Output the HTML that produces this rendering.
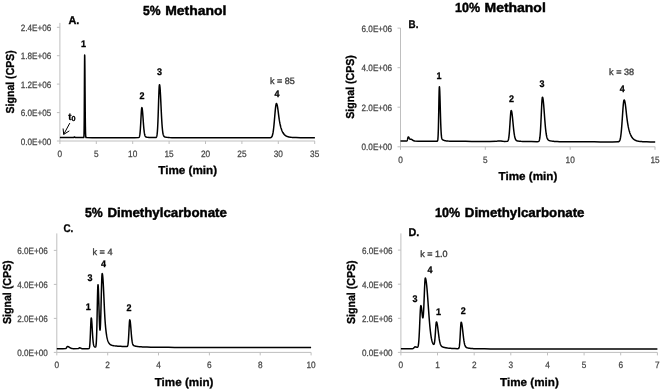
<!DOCTYPE html>
<html lang="en"><head><meta charset="utf-8"><title>Chromatograms</title>
<style>
html,body{margin:0;padding:0;background:#fff;}
body{width:661px;height:390px;overflow:hidden;}
svg{display:block;text-rendering:geometricPrecision;font-family:'Liberation Sans', Arial, sans-serif;}
</style></head><body>
<svg width="661" height="390" viewBox="0 0 661 390">
<rect width="661" height="390" fill="#fff"/>
<g stroke="#bfbfbf" stroke-width="1" fill="none">
<path d="M59.9 22.9V141.0H314.9"/>
<path d="M56.9 141.0H59.9M56.9 112.6H59.9M56.9 84.1H59.9M56.9 55.7H59.9M56.9 27.3H59.9M59.9 141.0V144.0M96.3 141.0V144.0M132.7 141.0V144.0M169.1 141.0V144.0M205.5 141.0V144.0M241.9 141.0V144.0M278.3 141.0V144.0M314.7 141.0V144.0"/>
</g>
<text x="20.70" y="144.50" font-size="9.2" fill="#454545" textLength="30.50" lengthAdjust="spacingAndGlyphs" stroke="#454545" stroke-width="0.25">0.0E+00</text>
<text x="20.70" y="116.07" font-size="9.2" fill="#454545" textLength="30.50" lengthAdjust="spacingAndGlyphs" stroke="#454545" stroke-width="0.25">6.0E+05</text>
<text x="20.70" y="87.64" font-size="9.2" fill="#454545" textLength="30.50" lengthAdjust="spacingAndGlyphs" stroke="#454545" stroke-width="0.25">1.2E+06</text>
<text x="20.70" y="59.21" font-size="9.2" fill="#454545" textLength="30.50" lengthAdjust="spacingAndGlyphs" stroke="#454545" stroke-width="0.25">1.8E+06</text>
<text x="20.70" y="30.78" font-size="9.2" fill="#454545" textLength="30.50" lengthAdjust="spacingAndGlyphs" stroke="#454545" stroke-width="0.25">2.4E+06</text>
<text x="57.60" y="156.80" font-size="9.2" fill="#454545" textLength="4.60" lengthAdjust="spacingAndGlyphs" stroke="#454545" stroke-width="0.25">0</text>
<text x="94.00" y="156.80" font-size="9.2" fill="#454545" textLength="4.60" lengthAdjust="spacingAndGlyphs" stroke="#454545" stroke-width="0.25">5</text>
<text x="128.10" y="156.80" font-size="9.2" fill="#454545" textLength="9.20" lengthAdjust="spacingAndGlyphs" stroke="#454545" stroke-width="0.25">10</text>
<text x="164.50" y="156.80" font-size="9.2" fill="#454545" textLength="9.20" lengthAdjust="spacingAndGlyphs" stroke="#454545" stroke-width="0.25">15</text>
<text x="200.90" y="156.80" font-size="9.2" fill="#454545" textLength="9.20" lengthAdjust="spacingAndGlyphs" stroke="#454545" stroke-width="0.25">20</text>
<text x="237.30" y="156.80" font-size="9.2" fill="#454545" textLength="9.20" lengthAdjust="spacingAndGlyphs" stroke="#454545" stroke-width="0.25">25</text>
<text x="273.70" y="156.80" font-size="9.2" fill="#454545" textLength="9.20" lengthAdjust="spacingAndGlyphs" stroke="#454545" stroke-width="0.25">30</text>
<text x="310.10" y="156.80" font-size="9.2" fill="#454545" textLength="9.20" lengthAdjust="spacingAndGlyphs" stroke="#454545" stroke-width="0.25">35</text>
<polyline points="59.90,137.60 65.94,137.60 71.97,137.61 73.76,137.51 73.93,137.38 74.01,137.29 74.10,137.20 74.18,137.10 74.27,137.01 74.44,136.91 74.69,137.03 74.78,137.12 74.86,137.22 74.95,137.32 75.04,137.40 75.21,137.52 75.55,137.60 81.58,137.62 83.71,137.55 83.79,137.40 83.88,136.96 83.96,135.87 84.05,133.44 84.13,128.68 84.22,120.53 84.30,108.37 84.39,92.84 84.47,76.27 84.56,62.41 84.64,55.12 84.73,55.62 84.81,60.68 84.90,69.26 84.98,80.09 85.07,91.78 85.15,103.03 85.24,112.90 85.32,120.89 85.41,126.90 85.49,131.12 85.58,133.88 85.66,135.59 85.75,136.57 85.83,137.11 85.92,137.38 86.00,137.52 86.17,137.60 92.21,137.63 98.25,137.63 104.28,137.63 110.32,137.64 116.36,137.64 122.40,137.65 128.43,137.65 134.47,137.66 138.64,137.57 138.89,137.44 138.98,137.37 139.06,137.29 139.15,137.17 139.23,137.03 139.32,136.86 139.40,136.64 139.49,136.38 139.57,136.06 139.66,135.68 139.74,135.23 139.83,134.70 139.91,134.08 140.00,133.37 140.08,132.56 140.17,131.64 140.25,130.62 140.34,129.49 140.42,128.26 140.51,126.92 140.59,125.49 140.68,123.99 140.76,122.42 140.85,120.81 140.93,119.18 141.02,117.56 141.10,115.96 141.19,114.43 141.27,112.99 141.36,111.67 141.44,110.50 141.53,109.50 141.61,108.71 141.70,108.13 141.78,107.78 141.87,107.66 141.95,107.73 142.04,107.93 142.12,108.26 142.21,108.71 142.29,109.28 142.38,109.97 142.46,110.75 142.55,111.63 142.63,112.59 142.72,113.62 142.80,114.72 142.89,115.85 142.97,117.02 143.06,118.21 143.14,119.42 143.23,120.62 143.31,121.80 143.40,122.97 143.48,124.10 143.57,125.20 143.65,126.25 143.74,127.25 143.82,128.20 143.91,129.09 143.99,129.92 144.08,130.70 144.16,131.41 144.25,132.07 144.33,132.66 144.42,133.21 144.50,133.70 144.59,134.14 144.67,134.53 144.76,134.88 144.84,135.19 144.93,135.46 145.01,135.70 145.10,135.91 145.18,136.09 145.27,136.25 145.35,136.39 145.44,136.51 145.52,136.61 145.61,136.70 145.78,136.84 145.95,136.95 146.12,137.03 146.37,137.12 146.71,137.20 147.22,137.28 147.90,137.37 148.84,137.45 150.20,137.53 152.67,137.61 155.98,137.52 156.15,137.41 156.24,137.34 156.32,137.24 156.41,137.12 156.49,136.97 156.58,136.78 156.66,136.54 156.75,136.26 156.83,135.91 156.92,135.49 157.00,134.99 157.09,134.40 157.17,133.70 157.26,132.89 157.34,131.96 157.43,130.88 157.51,129.66 157.60,128.28 157.68,126.75 157.77,125.05 157.85,123.19 157.94,121.16 158.02,118.99 158.11,116.67 158.19,114.23 158.28,111.69 158.36,109.07 158.45,106.40 158.53,103.72 158.62,101.07 158.70,98.49 158.79,96.01 158.87,93.68 158.96,91.55 159.04,89.64 159.13,88.00 159.21,86.67 159.30,85.66 159.38,84.99 159.47,84.69 159.55,84.71 159.64,84.91 159.72,85.27 159.81,85.79 159.89,86.48 159.98,87.31 160.06,88.29 160.15,89.41 160.23,90.65 160.32,92.01 160.40,93.48 160.49,95.03 160.57,96.66 160.66,98.35 160.74,100.10 160.83,101.88 160.91,103.68 161.00,105.50 161.08,107.31 161.17,109.11 161.25,110.88 161.34,112.62 161.42,114.32 161.51,115.96 161.59,117.55 161.68,119.07 161.76,120.53 161.85,121.91 161.93,123.22 162.02,124.46 162.10,125.62 162.19,126.70 162.27,127.70 162.36,128.63 162.44,129.49 162.53,130.28 162.61,131.01 162.70,131.66 162.78,132.26 162.87,132.80 162.95,133.29 163.04,133.73 163.12,134.13 163.21,134.48 163.29,134.79 163.38,135.07 163.46,135.32 163.55,135.54 163.63,135.74 163.72,135.91 163.80,136.06 163.89,136.19 163.97,136.31 164.06,136.41 164.14,136.50 164.31,136.65 164.48,136.77 164.65,136.86 164.91,136.97 165.17,137.05 165.51,137.13 165.93,137.21 166.53,137.30 167.21,137.38 168.14,137.47 169.50,137.55 171.97,137.63 178.00,137.69 184.04,137.70 190.08,137.70 196.12,137.71 202.15,137.71 208.19,137.72 214.23,137.72 220.26,137.73 226.30,137.73 232.34,137.74 238.37,137.74 244.41,137.74 250.45,137.75 256.49,137.75 262.52,137.76 268.56,137.76 270.43,137.67 270.77,137.58 271.03,137.48 271.20,137.38 271.37,137.25 271.45,137.17 271.54,137.09 271.62,136.99 271.71,136.88 271.79,136.76 271.88,136.62 271.96,136.46 272.05,136.29 272.13,136.11 272.22,135.90 272.30,135.67 272.39,135.41 272.47,135.14 272.56,134.83 272.64,134.50 272.73,134.15 272.81,133.76 272.90,133.34 272.98,132.89 273.07,132.40 273.15,131.88 273.24,131.33 273.32,130.74 273.41,130.11 273.49,129.45 273.58,128.75 273.66,128.02 273.75,127.25 273.83,126.45 273.92,125.61 274.00,124.75 274.09,123.85 274.17,122.93 274.26,121.99 274.34,121.03 274.43,120.05 274.51,119.05 274.60,118.05 274.68,117.04 274.77,116.03 274.85,115.03 274.94,114.04 275.02,113.06 275.11,112.10 275.19,111.17 275.28,110.27 275.36,109.40 275.45,108.58 275.53,107.81 275.62,107.09 275.70,106.42 275.79,105.82 275.87,105.28 275.96,104.81 276.04,104.41 276.13,104.08 276.21,103.84 276.30,103.67 276.38,103.58 276.55,103.61 276.64,103.69 276.72,103.82 276.81,103.98 276.89,104.18 276.98,104.43 277.06,104.71 277.15,105.03 277.23,105.39 277.32,105.78 277.40,106.21 277.49,106.66 277.57,107.15 277.66,107.67 277.74,108.22 277.83,108.79 277.91,109.39 278.00,110.01 278.08,110.64 278.17,111.30 278.25,111.97 278.34,112.65 278.42,113.35 278.51,114.06 278.59,114.76 278.68,115.44 278.76,116.10 278.85,116.74 278.93,117.36 279.02,117.96 279.10,118.54 279.19,119.11 279.27,119.66 279.36,120.19 279.44,120.71 279.53,121.21 279.61,121.69 279.70,122.16 279.78,122.62 279.87,123.06 279.95,123.49 280.04,123.90 280.12,124.31 280.21,124.70 280.29,125.08 280.38,125.45 280.46,125.81 280.55,126.15 280.63,126.49 280.72,126.82 280.80,127.14 280.89,127.44 280.97,127.74 281.06,128.03 281.14,128.31 281.23,128.59 281.31,128.85 281.40,129.11 281.48,129.36 281.57,129.60 281.65,129.83 281.74,130.06 281.82,130.28 281.91,130.50 281.99,130.71 282.08,130.91 282.16,131.10 282.25,131.30 282.33,131.48 282.42,131.66 282.50,131.83 282.59,132.00 282.67,132.17 282.76,132.33 282.84,132.48 282.93,132.63 283.01,132.78 283.10,132.92 283.18,133.06 283.27,133.19 283.35,133.32 283.44,133.44 283.52,133.56 283.61,133.68 283.69,133.80 283.78,133.91 283.86,134.02 283.95,134.12 284.03,134.22 284.12,134.32 284.20,134.42 284.29,134.51 284.37,134.60 284.46,134.69 284.54,134.77 284.63,134.85 284.80,135.01 284.97,135.16 285.14,135.30 285.31,135.43 285.48,135.56 285.65,135.67 285.82,135.78 285.99,135.89 286.16,135.99 286.33,136.08 286.50,136.16 286.67,136.25 286.93,136.36 287.18,136.46 287.44,136.56 287.69,136.65 287.95,136.73 288.29,136.82 288.63,136.91 289.05,137.00 289.48,137.09 289.99,137.17 290.58,137.25 291.35,137.34 292.37,137.42 293.73,137.50 295.94,137.58 300.45,137.66 306.48,137.72 312.52,137.75 314.90,137.76" fill="none" stroke="#000" stroke-width="1.5" stroke-linejoin="round" stroke-linecap="butt"/>
<text y="14.50" font-size="13.2" font-weight="bold" stroke="#000" stroke-width="0.45"><tspan x="143.00" textLength="17.60" lengthAdjust="spacingAndGlyphs">5%</tspan><tspan font-size="1"> </tspan><tspan x="165.20" textLength="61.10" lengthAdjust="spacingAndGlyphs">Methanol</tspan></text>
<text x="68.40" y="23.80" font-size="11.4" font-weight="bold" stroke="#000" stroke-width="0.3" textLength="10.90" lengthAdjust="spacingAndGlyphs">A.</text>
<text x="14.00" y="113.40" font-size="11.5" font-weight="bold" stroke="#000" stroke-width="0.3" textLength="63.20" lengthAdjust="spacingAndGlyphs" transform="rotate(-90 14.00 113.40)">Signal (CPS)</text>
<text x="158.30" y="174.00" font-size="11.5" font-weight="bold" stroke="#000" stroke-width="0.3" textLength="58.80" lengthAdjust="spacingAndGlyphs">Time (min)</text>
<text x="81.00" y="46.90" font-size="9.6" font-weight="bold" textLength="5.00" lengthAdjust="spacingAndGlyphs" stroke="#000" stroke-width="0.3">1</text>
<text x="139.50" y="99.30" font-size="9.6" font-weight="bold" textLength="5.00" lengthAdjust="spacingAndGlyphs" stroke="#000" stroke-width="0.3">2</text>
<text x="157.00" y="75.30" font-size="9.6" font-weight="bold" textLength="5.00" lengthAdjust="spacingAndGlyphs" stroke="#000" stroke-width="0.3">3</text>
<text x="274.40" y="96.60" font-size="9.6" font-weight="bold" textLength="5.00" lengthAdjust="spacingAndGlyphs" stroke="#000" stroke-width="0.3">4</text>
<text x="270.00" y="83.60" font-size="9.2" fill="#3a3a3a" textLength="24.80" lengthAdjust="spacingAndGlyphs" stroke="#3a3a3a" stroke-width="0.35">k = 85</text>
<text x="68.3" y="119.7" font-size="9.6" font-weight="bold" stroke="#000" stroke-width="0.3">t<tspan font-size="7.2" dy="1.7">0</tspan></text>
<path d="M69.8 123.1L63.7 134.4M63.1 128.5L63.7 134.4L69.3 130.9" fill="none" stroke="#000" stroke-width="1"/>
<g stroke="#bfbfbf" stroke-width="1" fill="none">
<path d="M400.5 28.0V146.8H655.2"/>
<path d="M397.5 146.8H400.5M397.5 107.2H400.5M397.5 67.7H400.5M397.5 28.1H400.5M400.5 146.8V149.8M485.3 146.8V149.8M570.2 146.8V149.8M655.0 146.8V149.8"/>
</g>
<text x="361.60" y="150.30" font-size="9.2" fill="#454545" textLength="30.50" lengthAdjust="spacingAndGlyphs" stroke="#454545" stroke-width="0.25">0.0E+00</text>
<text x="361.60" y="110.73" font-size="9.2" fill="#454545" textLength="30.50" lengthAdjust="spacingAndGlyphs" stroke="#454545" stroke-width="0.25">2.0E+06</text>
<text x="361.60" y="71.16" font-size="9.2" fill="#454545" textLength="30.50" lengthAdjust="spacingAndGlyphs" stroke="#454545" stroke-width="0.25">4.0E+06</text>
<text x="361.60" y="31.59" font-size="9.2" fill="#454545" textLength="30.50" lengthAdjust="spacingAndGlyphs" stroke="#454545" stroke-width="0.25">6.0E+06</text>
<text x="398.20" y="162.70" font-size="9.2" fill="#454545" textLength="4.60" lengthAdjust="spacingAndGlyphs" stroke="#454545" stroke-width="0.25">0</text>
<text x="483.03" y="162.70" font-size="9.2" fill="#454545" textLength="4.60" lengthAdjust="spacingAndGlyphs" stroke="#454545" stroke-width="0.25">5</text>
<text x="565.56" y="162.70" font-size="9.2" fill="#454545" textLength="9.20" lengthAdjust="spacingAndGlyphs" stroke="#454545" stroke-width="0.25">10</text>
<text x="650.39" y="162.70" font-size="9.2" fill="#454545" textLength="9.20" lengthAdjust="spacingAndGlyphs" stroke="#454545" stroke-width="0.25">15</text>
<polyline points="400.50,141.10 406.53,141.08 406.78,140.97 406.87,140.90 406.95,140.81 407.04,140.70 407.12,140.55 407.21,140.37 407.29,140.15 407.38,139.90 407.46,139.60 407.55,139.28 407.63,138.93 407.72,138.57 407.80,138.21 407.89,137.86 407.97,137.55 408.06,137.29 408.14,137.09 408.23,136.96 408.57,137.04 408.65,137.13 408.74,137.24 408.82,137.37 408.91,137.52 408.99,137.67 409.08,137.84 409.16,138.01 409.25,138.18 409.33,138.35 409.42,138.51 409.50,138.66 409.59,138.79 409.67,138.91 409.76,139.02 409.84,139.10 410.01,139.22 411.29,139.31 411.54,139.41 411.71,139.50 411.88,139.60 412.05,139.70 412.22,139.82 412.39,139.94 412.56,140.06 412.73,140.18 412.90,140.30 413.07,140.41 413.24,140.52 413.41,140.62 413.58,140.70 413.83,140.82 414.09,140.91 414.43,141.00 414.94,141.09 418.00,141.17 424.03,141.19 430.06,141.22 436.08,141.24 437.27,141.14 437.36,141.08 437.44,140.98 437.53,140.83 437.61,140.60 437.70,140.27 437.78,139.80 437.87,139.14 437.95,138.24 438.04,137.05 438.12,135.51 438.21,133.56 438.29,131.15 438.38,128.25 438.46,124.86 438.55,121.00 438.63,116.74 438.72,112.19 438.80,107.48 438.89,102.81 438.97,98.38 439.06,94.40 439.14,91.08 439.23,88.62 439.31,87.15 439.40,86.76 439.48,87.08 439.57,87.89 439.65,89.16 439.74,90.87 439.82,92.96 439.91,95.39 439.99,98.09 440.08,101.00 440.16,104.04 440.25,107.15 440.33,110.27 440.42,113.33 440.50,116.29 440.59,119.10 440.67,121.73 440.76,124.17 440.84,126.38 440.93,128.38 441.01,130.14 441.10,131.70 441.18,133.04 441.27,134.20 441.35,135.19 441.44,136.01 441.52,136.70 441.61,137.28 441.69,137.75 441.78,138.14 441.86,138.45 441.95,138.71 442.03,138.93 442.11,139.10 442.20,139.24 442.28,139.36 442.37,139.47 442.45,139.56 442.62,139.70 442.79,139.82 442.96,139.92 443.13,140.01 443.30,140.10 443.56,140.21 443.81,140.31 444.07,140.40 444.32,140.49 444.66,140.59 445.00,140.67 445.43,140.77 445.94,140.86 446.53,140.95 447.30,141.04 448.31,141.12 449.93,141.21 453.58,141.29 459.61,141.33 465.64,141.36 471.67,141.38 477.70,141.40 483.73,141.43 489.76,141.45 495.79,141.37 496.38,141.29 496.89,141.20 497.32,141.11 497.74,141.02 498.25,140.94 500.72,141.02 501.31,141.10 501.90,141.19 502.50,141.27 503.26,141.36 504.28,141.44 507.42,141.32 507.59,141.21 507.68,141.14 507.76,141.05 507.85,140.95 507.93,140.82 508.02,140.68 508.10,140.50 508.19,140.29 508.27,140.05 508.36,139.78 508.44,139.45 508.53,139.09 508.61,138.67 508.70,138.20 508.78,137.66 508.87,137.07 508.95,136.41 509.04,135.68 509.12,134.88 509.21,134.02 509.29,133.08 509.38,132.07 509.46,131.00 509.55,129.86 509.63,128.67 509.72,127.43 509.80,126.14 509.89,124.83 509.97,123.49 510.06,122.15 510.14,120.81 510.23,119.50 510.31,118.22 510.40,116.99 510.48,115.83 510.57,114.75 510.65,113.76 510.74,112.89 510.82,112.14 510.91,111.52 510.99,111.05 511.08,110.73 511.16,110.56 511.33,110.61 511.42,110.74 511.50,110.94 511.59,111.21 511.67,111.54 511.76,111.94 511.84,112.40 511.93,112.92 512.01,113.49 512.10,114.12 512.18,114.79 512.27,115.51 512.35,116.27 512.44,117.06 512.52,117.88 512.61,118.72 512.69,119.58 512.78,120.46 512.86,121.35 512.95,122.25 513.03,123.14 513.11,124.03 513.20,124.92 513.28,125.79 513.37,126.65 513.45,127.49 513.54,128.31 513.62,129.11 513.71,129.88 513.79,130.62 513.88,131.34 513.96,132.02 514.05,132.67 514.13,133.30 514.22,133.89 514.30,134.44 514.39,134.97 514.47,135.46 514.56,135.93 514.64,136.36 514.73,136.76 514.81,137.14 514.90,137.48 514.98,137.81 515.07,138.10 515.15,138.37 515.24,138.62 515.32,138.85 515.41,139.06 515.49,139.25 515.58,139.43 515.66,139.59 515.75,139.73 515.83,139.86 515.92,139.98 516.00,140.09 516.09,140.18 516.17,140.27 516.34,140.42 516.51,140.54 516.68,140.65 516.85,140.73 517.11,140.83 517.45,140.93 517.87,141.02 518.38,141.11 519.06,141.20 519.91,141.28 521.01,141.37 522.54,141.45 525.17,141.53 531.20,141.60 537.23,141.63 538.34,141.53 538.59,141.41 538.76,141.28 538.85,141.19 538.93,141.09 539.02,140.96 539.10,140.80 539.19,140.62 539.27,140.40 539.36,140.14 539.44,139.84 539.53,139.49 539.61,139.08 539.70,138.62 539.78,138.08 539.87,137.47 539.95,136.78 540.04,136.00 540.12,135.14 540.21,134.18 540.29,133.12 540.38,131.97 540.46,130.71 540.55,129.35 540.63,127.89 540.72,126.34 540.80,124.70 540.89,122.97 540.97,121.18 541.06,119.33 541.14,117.44 541.23,115.52 541.31,113.60 541.40,111.68 541.48,109.80 541.57,107.97 541.65,106.21 541.74,104.56 541.82,103.02 541.91,101.63 541.99,100.40 542.08,99.34 542.16,98.48 542.25,97.83 542.33,97.39 542.42,97.18 542.50,97.17 542.59,97.26 542.67,97.42 542.75,97.67 542.84,98.00 542.92,98.41 543.01,98.89 543.09,99.45 543.18,100.08 543.26,100.77 543.35,101.53 543.43,102.35 543.52,103.23 543.60,104.16 543.69,105.13 543.77,106.15 543.86,107.20 543.94,108.28 544.03,109.39 544.11,110.52 544.20,111.66 544.28,112.82 544.37,113.98 544.45,115.14 544.54,116.29 544.62,117.44 544.71,118.58 544.79,119.70 544.88,120.80 544.96,121.87 545.05,122.92 545.13,123.95 545.22,124.94 545.30,125.90 545.39,126.82 545.47,127.71 545.56,128.57 545.64,129.38 545.73,130.16 545.81,130.90 545.90,131.61 545.98,132.27 546.07,132.90 546.15,133.49 546.24,134.05 546.32,134.57 546.41,135.06 546.49,135.51 546.58,135.94 546.66,136.34 546.75,136.70 546.83,137.04 546.92,137.36 547.00,137.65 547.09,137.91 547.17,138.16 547.26,138.39 547.34,138.59 547.43,138.78 547.51,138.96 547.60,139.12 547.68,139.26 547.77,139.40 547.85,139.52 547.94,139.63 548.02,139.73 548.11,139.83 548.19,139.91 548.36,140.06 548.53,140.19 548.70,140.29 548.87,140.39 549.12,140.50 549.38,140.60 549.72,140.70 550.06,140.79 550.48,140.88 550.91,140.96 551.42,141.05 552.01,141.13 552.69,141.22 553.46,141.30 554.39,141.38 555.58,141.47 557.19,141.55 559.57,141.63 564.16,141.71 570.19,141.76 576.22,141.79 582.25,141.81 588.28,141.84 594.31,141.86 600.34,141.88 606.37,141.91 612.40,141.93 618.26,141.85 618.60,141.75 618.85,141.62 619.02,141.50 619.11,141.43 619.19,141.34 619.28,141.25 619.36,141.14 619.45,141.02 619.53,140.88 619.62,140.73 619.70,140.56 619.78,140.36 619.87,140.15 619.95,139.91 620.04,139.64 620.12,139.35 620.21,139.03 620.29,138.67 620.38,138.28 620.46,137.86 620.55,137.40 620.63,136.90 620.72,136.36 620.80,135.77 620.89,135.15 620.97,134.47 621.06,133.75 621.14,132.99 621.23,132.18 621.31,131.32 621.40,130.41 621.48,129.46 621.57,128.47 621.65,127.43 621.74,126.35 621.82,125.23 621.91,124.08 621.99,122.90 622.08,121.69 622.16,120.45 622.25,119.20 622.33,117.93 622.42,116.66 622.50,115.39 622.59,114.12 622.67,112.87 622.76,111.63 622.84,110.42 622.93,109.25 623.01,108.11 623.10,107.03 623.18,106.00 623.27,105.03 623.35,104.13 623.44,103.30 623.52,102.56 623.61,101.90 623.69,101.33 623.78,100.86 623.86,100.49 623.95,100.21 624.03,100.04 624.29,100.06 624.37,100.17 624.46,100.32 624.54,100.52 624.63,100.76 624.71,101.04 624.80,101.37 624.88,101.73 624.97,102.14 625.05,102.58 625.14,103.07 625.22,103.59 625.31,104.14 625.39,104.72 625.48,105.34 625.56,105.98 625.64,106.65 625.73,107.34 625.81,108.06 625.90,108.80 625.98,109.56 626.07,110.33 626.15,111.12 626.24,111.92 626.32,112.73 626.41,113.55 626.49,114.35 626.58,115.12 626.66,115.87 626.75,116.60 626.83,117.31 626.92,118.00 627.00,118.67 627.09,119.31 627.17,119.94 627.26,120.56 627.34,121.15 627.43,121.73 627.51,122.29 627.60,122.83 627.68,123.36 627.77,123.87 627.85,124.37 627.94,124.85 628.02,125.32 628.11,125.78 628.19,126.23 628.28,126.66 628.36,127.08 628.45,127.48 628.53,127.88 628.62,128.27 628.70,128.64 628.79,129.00 628.87,129.36 628.96,129.70 629.04,130.04 629.13,130.36 629.21,130.68 629.30,130.98 629.38,131.28 629.47,131.57 629.55,131.85 629.64,132.13 629.72,132.39 629.81,132.65 629.89,132.91 629.98,133.15 630.06,133.39 630.15,133.62 630.23,133.84 630.32,134.06 630.40,134.28 630.49,134.48 630.57,134.68 630.66,134.88 630.74,135.07 630.83,135.26 630.91,135.44 631.00,135.61 631.08,135.78 631.17,135.94 631.25,136.11 631.34,136.26 631.42,136.41 631.51,136.56 631.59,136.70 631.67,136.84 631.76,136.98 631.84,137.11 631.93,137.24 632.01,137.36 632.10,137.48 632.18,137.60 632.27,137.72 632.35,137.83 632.44,137.94 632.52,138.04 632.61,138.14 632.69,138.24 632.78,138.34 632.86,138.43 632.95,138.53 633.03,138.61 633.12,138.70 633.20,138.78 633.29,138.87 633.46,139.02 633.63,139.17 633.80,139.31 633.97,139.44 634.14,139.57 634.31,139.69 634.48,139.80 634.65,139.90 634.82,140.00 634.99,140.10 635.16,140.19 635.33,140.27 635.50,140.35 635.75,140.47 636.01,140.57 636.26,140.67 636.52,140.76 636.77,140.84 637.11,140.94 637.45,141.03 637.79,141.11 638.21,141.20 638.72,141.29 639.23,141.37 639.83,141.45 640.59,141.54 641.53,141.62 642.72,141.70 644.33,141.78 646.71,141.86 650.44,141.94 655.20,142.01" fill="none" stroke="#000" stroke-width="1.5" stroke-linejoin="round" stroke-linecap="butt"/>
<text y="12.00" font-size="13.2" font-weight="bold" stroke="#000" stroke-width="0.45"><tspan x="455.00" textLength="25.00" lengthAdjust="spacingAndGlyphs">10%</tspan><tspan font-size="1"> </tspan><tspan x="484.50" textLength="61.30" lengthAdjust="spacingAndGlyphs">Methanol</tspan></text>
<text x="408.60" y="28.30" font-size="11.2" font-weight="bold" stroke="#000" stroke-width="0.3" textLength="9.80" lengthAdjust="spacingAndGlyphs">B.</text>
<text x="354.50" y="118.70" font-size="11.5" font-weight="bold" stroke="#000" stroke-width="0.3" textLength="63.60" lengthAdjust="spacingAndGlyphs" transform="rotate(-90 354.50 118.70)">Signal (CPS)</text>
<text x="498.50" y="180.20" font-size="11.5" font-weight="bold" stroke="#000" stroke-width="0.3" textLength="58.80" lengthAdjust="spacingAndGlyphs">Time (min)</text>
<text x="436.40" y="78.80" font-size="9.6" font-weight="bold" textLength="5.00" lengthAdjust="spacingAndGlyphs" stroke="#000" stroke-width="0.3">1</text>
<text x="509.00" y="102.30" font-size="9.6" font-weight="bold" textLength="5.00" lengthAdjust="spacingAndGlyphs" stroke="#000" stroke-width="0.3">2</text>
<text x="539.60" y="87.30" font-size="9.6" font-weight="bold" textLength="5.00" lengthAdjust="spacingAndGlyphs" stroke="#000" stroke-width="0.3">3</text>
<text x="619.80" y="91.80" font-size="9.6" font-weight="bold" textLength="5.00" lengthAdjust="spacingAndGlyphs" stroke="#000" stroke-width="0.3">4</text>
<text x="609.10" y="74.70" font-size="9.2" fill="#3a3a3a" textLength="25.00" lengthAdjust="spacingAndGlyphs" stroke="#3a3a3a" stroke-width="0.35">k = 38</text>
<g stroke="#bfbfbf" stroke-width="1" fill="none">
<path d="M56.8 233.4V352.4H311.1"/>
<path d="M53.8 352.4H56.8M53.8 318.4H56.8M53.8 284.4H56.8M53.8 250.4H56.8M56.8 352.4V355.4M107.7 352.4V355.4M158.5 352.4V355.4M209.4 352.4V355.4M260.2 352.4V355.4M311.1 352.4V355.4"/>
</g>
<text x="17.20" y="355.90" font-size="9.2" fill="#454545" textLength="30.50" lengthAdjust="spacingAndGlyphs" stroke="#454545" stroke-width="0.25">0.0E+00</text>
<text x="17.20" y="321.90" font-size="9.2" fill="#454545" textLength="30.50" lengthAdjust="spacingAndGlyphs" stroke="#454545" stroke-width="0.25">2.0E+06</text>
<text x="17.20" y="287.90" font-size="9.2" fill="#454545" textLength="30.50" lengthAdjust="spacingAndGlyphs" stroke="#454545" stroke-width="0.25">4.0E+06</text>
<text x="17.20" y="253.90" font-size="9.2" fill="#454545" textLength="30.50" lengthAdjust="spacingAndGlyphs" stroke="#454545" stroke-width="0.25">6.0E+06</text>
<text x="54.50" y="368.20" font-size="9.2" fill="#454545" textLength="4.60" lengthAdjust="spacingAndGlyphs" stroke="#454545" stroke-width="0.25">0</text>
<text x="105.36" y="368.20" font-size="9.2" fill="#454545" textLength="4.60" lengthAdjust="spacingAndGlyphs" stroke="#454545" stroke-width="0.25">2</text>
<text x="156.22" y="368.20" font-size="9.2" fill="#454545" textLength="4.60" lengthAdjust="spacingAndGlyphs" stroke="#454545" stroke-width="0.25">4</text>
<text x="207.08" y="368.20" font-size="9.2" fill="#454545" textLength="4.60" lengthAdjust="spacingAndGlyphs" stroke="#454545" stroke-width="0.25">6</text>
<text x="257.94" y="368.20" font-size="9.2" fill="#454545" textLength="4.60" lengthAdjust="spacingAndGlyphs" stroke="#454545" stroke-width="0.25">8</text>
<text x="306.50" y="368.20" font-size="9.2" fill="#454545" textLength="9.20" lengthAdjust="spacingAndGlyphs" stroke="#454545" stroke-width="0.25">10</text>
<polyline points="56.80,348.70 62.82,348.70 65.53,348.62 65.79,348.51 65.96,348.40 66.04,348.33 66.13,348.24 66.21,348.15 66.30,348.04 66.38,347.92 66.47,347.79 66.55,347.65 66.64,347.51 66.72,347.36 66.81,347.21 66.89,347.07 66.98,346.93 67.06,346.81 67.14,346.70 67.23,346.62 67.40,346.51 68.08,346.59 68.33,346.68 68.59,346.80 68.76,346.89 68.93,346.99 69.10,347.09 69.26,347.20 69.43,347.31 69.60,347.42 69.77,347.53 69.94,347.64 70.11,347.75 70.28,347.85 70.45,347.94 70.62,348.03 70.79,348.11 71.05,348.23 71.30,348.32 71.55,348.40 71.89,348.49 72.40,348.58 73.34,348.66 78.17,348.58 78.42,348.47 78.59,348.38 78.76,348.27 78.93,348.15 79.10,348.03 79.27,347.92 79.53,347.82 80.20,347.91 80.46,348.02 80.63,348.11 80.80,348.20 80.97,348.29 81.14,348.37 81.39,348.48 81.64,348.56 82.07,348.64 88.09,348.70 88.85,348.60 89.02,348.48 89.11,348.38 89.19,348.24 89.28,348.06 89.36,347.81 89.45,347.49 89.53,347.07 89.62,346.54 89.70,345.88 89.79,345.07 89.87,344.09 89.95,342.92 90.04,341.57 90.12,340.02 90.21,338.28 90.29,336.37 90.38,334.32 90.46,332.16 90.55,329.95 90.63,327.73 90.72,325.59 90.80,323.59 90.89,321.79 90.97,320.28 91.06,319.10 91.14,318.30 91.23,317.93 91.31,317.94 91.40,318.16 91.48,318.58 91.57,319.20 91.65,319.99 91.74,320.95 91.82,322.05 91.91,323.29 91.99,324.62 92.07,326.03 92.16,327.49 92.24,328.98 92.33,330.47 92.41,331.94 92.50,333.38 92.58,334.75 92.67,336.06 92.75,337.29 92.84,338.43 92.92,339.48 93.01,340.43 93.09,341.30 93.18,342.07 93.26,342.75 93.35,343.35 93.43,343.88 93.52,344.34 93.60,344.74 93.69,345.08 93.77,345.38 93.86,345.63 93.94,345.85 94.02,346.04 94.11,346.20 94.19,346.34 94.28,346.47 94.36,346.58 94.45,346.67 94.53,346.76 94.70,346.91 94.87,347.03 95.04,347.12 95.55,347.07 95.64,346.95 95.72,346.78 95.81,346.53 95.89,346.19 95.98,345.73 96.06,345.13 96.14,344.36 96.23,343.39 96.31,342.18 96.40,340.70 96.48,338.93 96.57,336.83 96.65,334.39 96.74,331.60 96.82,328.47 96.91,325.01 96.99,321.25 97.08,317.26 97.16,313.09 97.25,308.84 97.33,304.61 97.42,300.50 97.50,296.65 97.59,293.16 97.67,290.14 97.76,287.72 97.84,285.96 97.93,284.93 98.01,284.66 98.10,284.95 98.18,285.68 98.26,286.81 98.35,288.34 98.43,290.21 98.52,292.41 98.60,294.87 98.69,297.56 98.77,300.41 98.86,303.37 98.94,306.39 99.03,309.41 99.11,312.37 99.20,315.23 99.28,317.94 99.37,320.46 99.45,322.75 99.54,324.77 99.62,326.50 99.71,327.92 99.79,329.00 99.88,329.73 99.96,330.10 100.05,330.11 100.13,329.75 100.22,329.03 100.30,327.95 100.38,326.51 100.47,324.74 100.55,322.66 100.64,320.28 100.72,317.62 100.81,314.73 100.89,311.64 100.98,308.39 101.06,305.02 101.15,301.57 101.23,298.11 101.32,294.68 101.40,291.35 101.49,288.15 101.57,285.16 101.66,282.41 101.74,279.97 101.83,277.87 101.91,276.16 102.00,274.86 102.08,274.01 102.17,273.61 102.25,273.61 102.33,273.76 102.42,274.05 102.50,274.49 102.59,275.05 102.67,275.75 102.76,276.58 102.84,277.53 102.93,278.60 103.01,279.79 103.10,281.08 103.18,282.47 103.27,283.94 103.35,285.51 103.44,287.15 103.52,288.85 103.61,290.61 103.69,292.43 103.78,294.28 103.86,296.16 103.95,298.07 104.03,300.00 104.12,301.93 104.20,303.86 104.29,305.78 104.37,307.69 104.45,309.56 104.54,311.34 104.62,313.02 104.71,314.62 104.79,316.14 104.88,317.58 104.96,318.95 105.05,320.25 105.13,321.49 105.22,322.66 105.30,323.78 105.39,324.84 105.47,325.85 105.56,326.81 105.64,327.72 105.73,328.58 105.81,329.41 105.90,330.19 105.98,330.94 106.07,331.64 106.15,332.32 106.24,332.96 106.32,333.57 106.41,334.15 106.49,334.71 106.57,335.23 106.66,335.73 106.74,336.21 106.83,336.66 106.91,337.10 107.00,337.51 107.08,337.90 107.17,338.27 107.25,338.63 107.34,338.97 107.42,339.29 107.51,339.60 107.59,339.89 107.68,340.17 107.76,340.43 107.85,340.69 107.93,340.93 108.02,341.16 108.10,341.37 108.19,341.58 108.27,341.78 108.36,341.97 108.44,342.15 108.52,342.32 108.61,342.48 108.69,342.64 108.78,342.79 108.86,342.93 108.95,343.06 109.03,343.19 109.12,343.31 109.20,343.43 109.29,343.54 109.37,343.65 109.46,343.75 109.54,343.84 109.63,343.94 109.71,344.02 109.80,344.11 109.97,344.26 110.14,344.40 110.31,344.53 110.48,344.65 110.64,344.76 110.81,344.86 110.98,344.95 111.15,345.03 111.41,345.14 111.66,345.24 111.92,345.33 112.26,345.43 112.60,345.52 113.02,345.61 113.53,345.70 114.12,345.79 114.80,345.87 115.65,345.96 116.67,346.04 117.85,346.13 119.21,346.21 120.65,346.29 122.26,346.38 123.96,346.46 125.82,346.54 127.18,346.43 127.35,346.30 127.43,346.19 127.52,346.05 127.60,345.87 127.69,345.64 127.77,345.35 127.86,344.99 127.94,344.55 128.03,344.02 128.11,343.38 128.20,342.63 128.28,341.76 128.37,340.76 128.45,339.63 128.54,338.37 128.62,336.99 128.71,335.51 128.79,333.93 128.88,332.29 128.96,330.60 129.05,328.92 129.13,327.26 129.21,325.69 129.30,324.23 129.38,322.92 129.47,321.81 129.55,320.93 129.64,320.31 129.72,319.96 129.81,319.90 129.89,319.99 129.98,320.21 130.06,320.54 130.15,320.98 130.23,321.53 130.32,322.18 130.40,322.92 130.49,323.74 130.57,324.64 130.66,325.59 130.74,326.59 130.83,327.63 130.91,328.69 131.00,329.76 131.08,330.83 131.17,331.90 131.25,332.95 131.33,333.97 131.42,334.96 131.50,335.92 131.59,336.82 131.67,337.68 131.76,338.49 131.84,339.24 131.93,339.94 132.01,340.58 132.10,341.17 132.18,341.71 132.27,342.20 132.35,342.64 132.44,343.03 132.52,343.38 132.61,343.70 132.69,343.97 132.78,344.22 132.86,344.43 132.95,344.62 133.03,344.79 133.12,344.93 133.20,345.06 133.29,345.17 133.37,345.27 133.45,345.35 133.62,345.49 133.79,345.60 133.96,345.69 134.22,345.80 134.47,345.89 134.81,345.99 135.15,346.07 135.57,346.17 136.00,346.25 136.51,346.35 137.02,346.43 137.61,346.51 138.29,346.60 139.05,346.68 139.98,346.76 141.09,346.84 142.53,346.92 144.39,347.00 147.02,347.08 150.84,347.16 156.52,347.25 162.54,347.31 168.56,347.35 174.58,347.39 180.60,347.41 186.62,347.43 192.64,347.45 198.66,347.46 204.68,347.47 210.70,347.48 216.72,347.48 222.74,347.49 228.76,347.49 234.78,347.49 240.81,347.49 246.83,347.50 252.85,347.50 258.87,347.50 264.89,347.50 270.91,347.50 276.93,347.50 282.95,347.50 288.97,347.50 294.99,347.50 301.01,347.50 307.03,347.50 311.10,347.50" fill="none" stroke="#000" stroke-width="1.5" stroke-linejoin="round" stroke-linecap="butt"/>
<text y="217.30" font-size="13.2" font-weight="bold" stroke="#000" stroke-width="0.45"><tspan x="84.90" textLength="17.80" lengthAdjust="spacingAndGlyphs">5%</tspan><tspan font-size="1"> </tspan><tspan x="107.40" textLength="119.50" lengthAdjust="spacingAndGlyphs">Dimethylcarbonate</tspan></text>
<text x="63.50" y="232.20" font-size="11.2" font-weight="bold" stroke="#000" stroke-width="0.3" textLength="9.80" lengthAdjust="spacingAndGlyphs">C.</text>
<text x="11.40" y="324.00" font-size="11.5" font-weight="bold" stroke="#000" stroke-width="0.3" textLength="63.60" lengthAdjust="spacingAndGlyphs" transform="rotate(-90 11.40 324.00)">Signal (CPS)</text>
<text x="154.70" y="385.60" font-size="11.5" font-weight="bold" stroke="#000" stroke-width="0.3" textLength="58.80" lengthAdjust="spacingAndGlyphs">Time (min)</text>
<text x="85.80" y="309.90" font-size="9.6" font-weight="bold" textLength="5.00" lengthAdjust="spacingAndGlyphs" stroke="#000" stroke-width="0.3">1</text>
<text x="126.40" y="311.20" font-size="9.6" font-weight="bold" textLength="5.00" lengthAdjust="spacingAndGlyphs" stroke="#000" stroke-width="0.3">2</text>
<text x="87.50" y="280.80" font-size="9.6" font-weight="bold" textLength="5.00" lengthAdjust="spacingAndGlyphs" stroke="#000" stroke-width="0.3">3</text>
<text x="101.00" y="266.80" font-size="9.6" font-weight="bold" textLength="5.00" lengthAdjust="spacingAndGlyphs" stroke="#000" stroke-width="0.3">4</text>
<text x="92.50" y="254.50" font-size="9.2" fill="#3a3a3a" textLength="20.00" lengthAdjust="spacingAndGlyphs" stroke="#3a3a3a" stroke-width="0.35">k = 4</text>
<g stroke="#bfbfbf" stroke-width="1" fill="none">
<path d="M400.9 233.4V352.4H657.4"/>
<path d="M397.9 352.4H400.9M397.9 318.3H400.9M397.9 284.2H400.9M397.9 250.1H400.9M400.9 352.4V355.4M437.5 352.4V355.4M474.2 352.4V355.4M510.8 352.4V355.4M547.5 352.4V355.4M584.1 352.4V355.4M620.7 352.4V355.4M657.4 352.4V355.4"/>
</g>
<text x="362.00" y="355.90" font-size="9.2" fill="#454545" textLength="30.50" lengthAdjust="spacingAndGlyphs" stroke="#454545" stroke-width="0.25">0.0E+00</text>
<text x="362.00" y="321.80" font-size="9.2" fill="#454545" textLength="30.50" lengthAdjust="spacingAndGlyphs" stroke="#454545" stroke-width="0.25">2.0E+06</text>
<text x="362.00" y="287.70" font-size="9.2" fill="#454545" textLength="30.50" lengthAdjust="spacingAndGlyphs" stroke="#454545" stroke-width="0.25">4.0E+06</text>
<text x="362.00" y="253.60" font-size="9.2" fill="#454545" textLength="30.50" lengthAdjust="spacingAndGlyphs" stroke="#454545" stroke-width="0.25">6.0E+06</text>
<text x="398.60" y="368.20" font-size="9.2" fill="#454545" textLength="4.60" lengthAdjust="spacingAndGlyphs" stroke="#454545" stroke-width="0.25">0</text>
<text x="435.24" y="368.20" font-size="9.2" fill="#454545" textLength="4.60" lengthAdjust="spacingAndGlyphs" stroke="#454545" stroke-width="0.25">1</text>
<text x="471.88" y="368.20" font-size="9.2" fill="#454545" textLength="4.60" lengthAdjust="spacingAndGlyphs" stroke="#454545" stroke-width="0.25">2</text>
<text x="508.52" y="368.20" font-size="9.2" fill="#454545" textLength="4.60" lengthAdjust="spacingAndGlyphs" stroke="#454545" stroke-width="0.25">3</text>
<text x="545.16" y="368.20" font-size="9.2" fill="#454545" textLength="4.60" lengthAdjust="spacingAndGlyphs" stroke="#454545" stroke-width="0.25">4</text>
<text x="581.80" y="368.20" font-size="9.2" fill="#454545" textLength="4.60" lengthAdjust="spacingAndGlyphs" stroke="#454545" stroke-width="0.25">5</text>
<text x="618.44" y="368.20" font-size="9.2" fill="#454545" textLength="4.60" lengthAdjust="spacingAndGlyphs" stroke="#454545" stroke-width="0.25">6</text>
<text x="655.08" y="368.20" font-size="9.2" fill="#454545" textLength="4.60" lengthAdjust="spacingAndGlyphs" stroke="#454545" stroke-width="0.25">7</text>
<polyline points="400.90,348.80 406.97,348.81 412.45,348.72 412.79,348.63 413.05,348.52 413.22,348.42 413.39,348.29 413.56,348.15 413.64,348.07 413.73,347.99 413.81,347.90 413.90,347.81 413.99,347.72 414.07,347.62 414.16,347.53 414.24,347.44 414.33,347.35 414.41,347.26 414.50,347.18 414.67,347.03 414.84,346.91 415.10,346.82 415.87,346.91 416.21,347.02 416.47,347.11 416.72,347.21 416.98,347.30 417.66,347.15 417.75,347.04 417.83,346.90 417.92,346.72 418.01,346.50 418.09,346.22 418.18,345.89 418.26,345.49 418.35,345.02 418.43,344.46 418.52,343.82 418.60,343.08 418.69,342.24 418.78,341.30 418.86,340.23 418.95,339.06 419.03,337.76 419.12,336.35 419.20,334.83 419.29,333.20 419.37,331.46 419.46,329.64 419.55,327.74 419.63,325.79 419.72,323.80 419.80,321.79 419.89,319.78 419.97,317.81 420.06,315.90 420.14,314.08 420.23,312.38 420.31,310.81 420.40,309.42 420.49,308.21 420.57,307.22 420.66,306.45 420.74,305.93 420.83,305.65 420.91,305.61 421.00,305.69 421.08,305.87 421.17,306.16 421.26,306.54 421.34,307.01 421.43,307.56 421.51,308.19 421.60,308.88 421.68,309.62 421.77,310.40 421.85,311.21 421.94,312.04 422.03,312.87 422.11,313.69 422.20,314.47 422.28,315.22 422.37,315.90 422.45,316.50 422.54,317.02 422.62,317.43 422.71,317.72 422.80,317.87 422.88,317.88 422.97,317.73 423.05,317.41 423.14,316.93 423.22,316.26 423.31,315.41 423.39,314.38 423.48,313.18 423.57,311.80 423.65,310.25 423.74,308.55 423.82,306.72 423.91,304.76 423.99,302.70 424.08,300.56 424.16,298.37 424.25,296.15 424.33,293.94 424.42,291.76 424.51,289.64 424.59,287.61 424.68,285.71 424.76,283.96 424.85,282.39 424.93,281.02 425.02,279.89 425.10,279.00 425.19,278.38 425.28,278.04 425.36,277.98 425.45,278.13 425.53,278.33 425.62,278.57 425.70,278.86 425.79,279.19 425.87,279.57 425.96,280.00 426.05,280.47 426.13,280.99 426.22,281.56 426.30,282.17 426.39,282.83 426.47,283.54 426.56,284.29 426.64,285.08 426.73,285.92 426.82,286.79 426.90,287.70 426.99,288.65 427.07,289.64 427.16,290.65 427.24,291.70 427.33,292.77 427.41,293.87 427.50,294.99 427.58,296.13 427.67,297.29 427.76,298.46 427.84,299.65 427.93,300.85 428.01,302.06 428.10,303.27 428.18,304.49 428.27,305.70 428.35,306.92 428.44,308.13 428.53,309.34 428.61,310.54 428.70,311.73 428.78,312.91 428.87,314.07 428.95,315.22 429.04,316.36 429.12,317.48 429.21,318.58 429.30,319.66 429.38,320.71 429.47,321.75 429.55,322.76 429.64,323.75 429.72,324.71 429.81,325.65 429.89,326.56 429.98,327.45 430.07,328.31 430.15,329.14 430.24,329.94 430.32,330.72 430.41,331.48 430.49,332.20 430.58,332.90 430.66,333.57 430.75,334.22 430.83,334.84 430.92,335.43 431.01,336.00 431.09,336.55 431.18,337.07 431.26,337.57 431.35,338.05 431.43,338.50 431.52,338.93 431.60,339.35 431.69,339.74 431.78,340.11 431.86,340.46 431.95,340.80 432.03,341.12 432.12,341.42 432.20,341.71 432.29,341.98 432.37,342.23 432.46,342.47 432.55,342.70 432.63,342.91 432.72,343.11 432.80,343.30 432.89,343.48 432.97,343.64 433.06,343.79 433.14,343.93 433.23,344.05 433.32,344.16 433.40,344.25 433.57,344.38 433.91,344.31 434.00,344.21 434.09,344.06 434.17,343.86 434.26,343.60 434.34,343.27 434.43,342.88 434.51,342.41 434.60,341.85 434.68,341.22 434.77,340.49 434.85,339.67 434.94,338.76 435.03,337.76 435.11,336.68 435.20,335.53 435.28,334.32 435.37,333.06 435.45,331.78 435.54,330.48 435.62,329.19 435.71,327.94 435.80,326.74 435.88,325.63 435.97,324.63 436.05,323.76 436.14,323.03 436.22,322.48 436.31,322.11 436.39,321.92 436.57,322.00 436.65,322.12 436.74,322.30 436.82,322.52 436.91,322.79 436.99,323.10 437.08,323.46 437.16,323.87 437.25,324.31 437.34,324.79 437.42,325.31 437.51,325.86 437.59,326.44 437.68,327.04 437.76,327.67 437.85,328.32 437.93,328.98 438.02,329.66 438.10,330.34 438.19,331.03 438.28,331.73 438.36,332.42 438.45,333.11 438.53,333.79 438.62,334.47 438.70,335.13 438.79,335.78 438.87,336.41 438.96,337.03 439.05,337.63 439.13,338.21 439.22,338.77 439.30,339.30 439.39,339.81 439.47,340.30 439.56,340.77 439.64,341.21 439.73,341.63 439.82,342.03 439.90,342.40 439.99,342.75 440.07,343.08 440.16,343.39 440.24,343.68 440.33,343.95 440.41,344.20 440.50,344.43 440.59,344.65 440.67,344.85 440.76,345.03 440.84,345.20 440.93,345.36 441.01,345.50 441.10,345.64 441.18,345.76 441.27,345.88 441.35,345.98 441.44,346.08 441.53,346.17 441.61,346.25 441.78,346.40 441.95,346.53 442.12,346.64 442.30,346.74 442.47,346.83 442.72,346.94 442.98,347.04 443.24,347.13 443.49,347.22 443.84,347.32 444.18,347.41 444.52,347.49 444.95,347.59 445.37,347.68 445.80,347.77 446.32,347.86 446.83,347.95 447.43,348.03 448.11,348.12 448.80,348.20 449.65,348.29 450.59,348.37 451.70,348.46 453.07,348.54 454.87,348.62 457.43,348.70 458.38,348.62 458.55,348.53 458.63,348.46 458.72,348.36 458.80,348.24 458.89,348.07 458.97,347.87 459.06,347.61 459.14,347.30 459.23,346.91 459.32,346.43 459.40,345.87 459.49,345.20 459.57,344.43 459.66,343.54 459.74,342.52 459.83,341.39 459.91,340.13 460.00,338.77 460.09,337.31 460.17,335.77 460.26,334.17 460.34,332.55 460.43,330.92 460.51,329.34 460.60,327.83 460.68,326.44 460.77,325.20 460.86,324.14 460.94,323.30 461.03,322.70 461.11,322.36 461.28,322.33 461.37,322.43 461.45,322.60 461.54,322.83 461.63,323.11 461.71,323.46 461.80,323.85 461.88,324.30 461.97,324.80 462.05,325.35 462.14,325.93 462.22,326.55 462.31,327.21 462.39,327.90 462.48,328.61 462.57,329.34 462.65,330.09 462.74,330.85 462.82,331.62 462.91,332.39 462.99,333.16 463.08,333.92 463.16,334.68 463.25,335.42 463.34,336.15 463.42,336.87 463.51,337.56 463.59,338.23 463.68,338.88 463.76,339.50 463.85,340.10 463.93,340.66 464.02,341.20 464.11,341.72 464.19,342.20 464.28,342.66 464.36,343.08 464.45,343.48 464.53,343.86 464.62,344.20 464.70,344.53 464.79,344.83 464.88,345.10 464.96,345.36 465.05,345.59 465.13,345.80 465.22,346.00 465.30,346.18 465.39,346.34 465.47,346.49 465.56,346.63 465.65,346.75 465.73,346.86 465.82,346.96 465.90,347.06 465.99,347.14 466.16,347.29 466.33,347.41 466.50,347.51 466.67,347.60 466.93,347.70 467.18,347.79 467.53,347.89 467.87,347.97 468.30,348.06 468.81,348.15 469.32,348.23 469.92,348.31 470.61,348.39 471.46,348.48 472.49,348.56 473.77,348.64 475.57,348.72 478.47,348.81 484.55,348.87 490.62,348.90 496.69,348.91 502.76,348.92 508.84,348.93 514.91,348.93 520.98,348.94 527.05,348.95 533.13,348.95 539.20,348.96 545.27,348.97 551.34,348.98 557.42,348.98 563.49,348.99 569.56,349.00 575.63,349.00 581.71,349.01 587.78,349.02 593.85,349.03 599.92,349.03 606.00,349.04 612.07,349.05 618.14,349.05 624.21,349.06 630.29,349.07 636.36,349.08 642.43,349.08 648.51,349.09 654.58,349.10 657.40,349.10" fill="none" stroke="#000" stroke-width="1.5" stroke-linejoin="round" stroke-linecap="butt"/>
<text y="217.30" font-size="13.2" font-weight="bold" stroke="#000" stroke-width="0.45"><tspan x="435.00" textLength="25.00" lengthAdjust="spacingAndGlyphs">10%</tspan><tspan font-size="1"> </tspan><tspan x="464.80" textLength="119.70" lengthAdjust="spacingAndGlyphs">Dimethylcarbonate</tspan></text>
<text x="408.40" y="235.90" font-size="11.2" font-weight="bold" stroke="#000" stroke-width="0.3" textLength="10.80" lengthAdjust="spacingAndGlyphs">D.</text>
<text x="354.70" y="324.00" font-size="11.5" font-weight="bold" stroke="#000" stroke-width="0.3" textLength="63.60" lengthAdjust="spacingAndGlyphs" transform="rotate(-90 354.70 324.00)">Signal (CPS)</text>
<text x="500.00" y="386.20" font-size="11.5" font-weight="bold" stroke="#000" stroke-width="0.3" textLength="58.80" lengthAdjust="spacingAndGlyphs">Time (min)</text>
<text x="436.10" y="314.70" font-size="9.6" font-weight="bold" textLength="5.00" lengthAdjust="spacingAndGlyphs" stroke="#000" stroke-width="0.3">1</text>
<text x="460.80" y="314.20" font-size="9.6" font-weight="bold" textLength="5.00" lengthAdjust="spacingAndGlyphs" stroke="#000" stroke-width="0.3">2</text>
<text x="412.50" y="301.80" font-size="9.6" font-weight="bold" textLength="5.00" lengthAdjust="spacingAndGlyphs" stroke="#000" stroke-width="0.3">3</text>
<text x="427.50" y="273.30" font-size="9.6" font-weight="bold" textLength="5.00" lengthAdjust="spacingAndGlyphs" stroke="#000" stroke-width="0.3">4</text>
<text x="420.20" y="257.20" font-size="9.2" fill="#3a3a3a" textLength="27.30" lengthAdjust="spacingAndGlyphs" stroke="#3a3a3a" stroke-width="0.35">k = 1.0</text>
</svg>
</body></html>
